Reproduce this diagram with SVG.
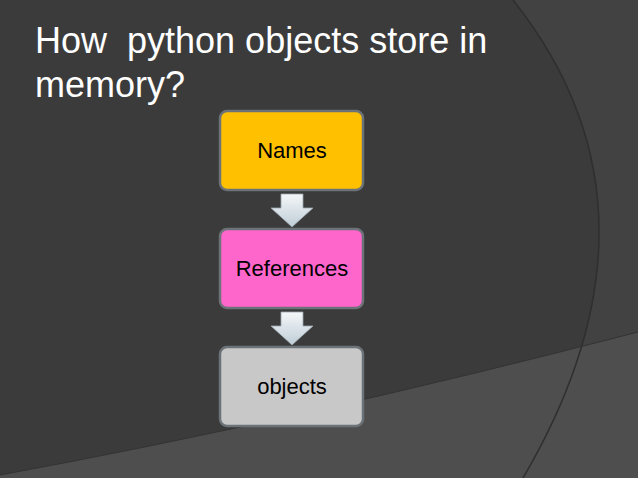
<svg xmlns="http://www.w3.org/2000/svg" width="638" height="478" viewBox="0 0 638 478">
<defs>
<linearGradient id="ag" x1="0" y1="0" x2="0" y2="1"><stop offset="0" stop-color="#f4f7f9"/><stop offset="1" stop-color="#bfcdd6"/></linearGradient>
<style>
.box{stroke:#6b7278;stroke-width:2.5}
.lbl{font-family:"Liberation Sans",Arial,sans-serif;font-size:22px;fill:#000;text-anchor:middle}
.ttl{font-family:"Liberation Sans",Arial,sans-serif;font-size:36px;fill:#fff}
.arr{fill:url(#ag);stroke:#9aa6ad;stroke-width:0.8}
</style>
</defs>
<rect width="638" height="478" fill="#3b3b3b"/>
<path d="M513 0 Q680 210 523 478 L638 478 L638 0 Z" fill="#424242"/>
<path d="M0 475 Q300 420 638 332 L638 478 L0 478 Z" fill="#4e4e4e"/>
<path d="M513 0 Q680 210 523 478" fill="none" stroke="#2f2f2f" stroke-width="1.5"/>
<path d="M0 475 Q300 420 638 332" fill="none" stroke="#333" stroke-width="1"/>
<text class="ttl" x="35" y="53" xml:space="preserve">How  python objects store in</text>
<text class="ttl" x="35" y="97">memory?</text>
<g id="connectors">
<path class="arr" d="M281 194 H303 V208 H313 L292 227 L271 208 H281 Z"/>
<path class="arr" d="M281 312 H303 V326 H313 L292 345 L271 326 H281 Z"/>
</g>
<g id="names"><rect class="box" x="220" y="111" width="143" height="79" rx="7" fill="#ffc000"/><text class="lbl" x="292" y="158">Names</text></g>
<g id="references"><rect class="box" x="220" y="229" width="143" height="79" rx="7" fill="#ff66cc"/><text class="lbl" x="292" y="276">References</text></g>
<g id="objects"><rect class="box" x="220" y="347" width="143" height="79" rx="7" fill="#c8c8c8"/><text class="lbl" x="292" y="394">objects</text></g>
</svg>
